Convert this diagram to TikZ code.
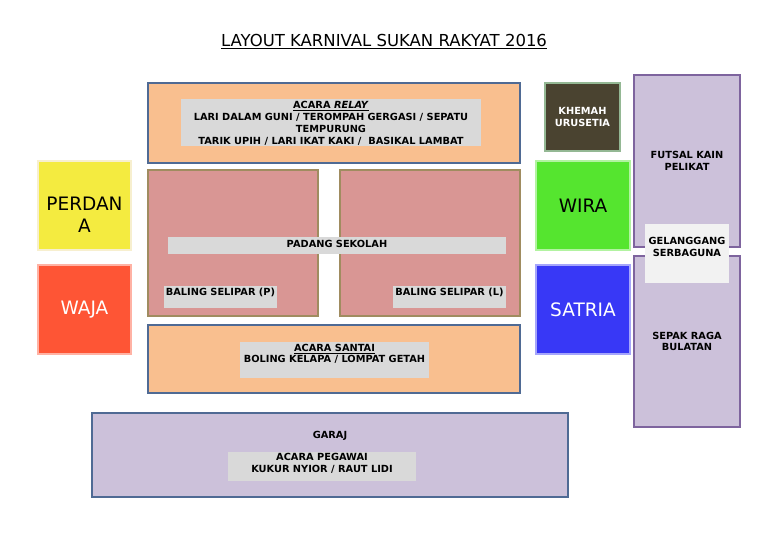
\documentclass[tikz,border=0pt]{standalone}
\usepackage{fontspec}
\setmainfont{DejaVu Sans}
\usetikzlibrary{positioning}

\definecolor{oren}{HTML}{F9BF8F}
\definecolor{biru}{HTML}{4F6A94}
\definecolor{padang}{HTML}{D99694}
\definecolor{padangline}{HTML}{A08C60}
\definecolor{kelabu}{HTML}{D9D9D9}
\definecolor{ungu}{HTML}{CCC1DA}
\definecolor{unguline}{HTML}{7E649E}
\definecolor{kuning}{HTML}{F4EB40}
\definecolor{merah}{HTML}{FE5535}
\definecolor{hijau}{HTML}{55E52F}
\definecolor{birutua}{HTML}{3838F6}
\definecolor{coklat}{HTML}{4A4330}

\begin{document}
\begin{tikzpicture}[x=1pt,y=-1pt,
  every node/.style={inner sep=0pt,outer sep=0pt},
  zone/.style={draw=biru,line width=1.3pt,rectangle},
  field/.style={draw=padangline,line width=1.3pt,fill=padang},
  greybox/.style={fill=kelabu},
  rumah/.style={line width=1.3pt,font=\fontsize{18.5}{22}\selectfont,align=center},
  txt/.style={font=\fontsize{9.8}{11.8}\selectfont\bfseries,align=center}]
\useasboundingbox (0,0) rectangle (768,543);

% tajuk
\node[font=\fontsize{16.5}{19}\selectfont] (tajuk) at (384,41.5) {\underline{LAYOUT KARNIVAL SUKAN RAKYAT 2016}};

% acara relay
\node[zone,fill=oren,minimum width=372pt,minimum height=80pt] (relay) at (334,123) {};
\node[greybox,minimum width=300pt,minimum height=47pt] (relaybox) at (331,122.5) {};
\node[txt] at ([yshift=-1pt]relaybox) {\underline{ACARA \textit{RELAY}}\\LARI DALAM GUNI / TEROMPAH GERGASI / SEPATU\\TEMPURUNG\\TARIK UPIH / LARI IKAT KAKI /~ BASIKAL LAMBAT};

% padang sekolah
\node[field,minimum width=170pt,minimum height=146pt] (padangP) at (233,243) {};
\node[field,minimum width=180pt,minimum height=146pt] (padangL) at (430,243) {};
\node[greybox,minimum width=338pt,minimum height=17pt] (padangbar) at (337,245.5) {};
\node[txt] at ([yshift=2pt]padangbar) {PADANG SEKOLAH};
\node[greybox,minimum width=113pt,minimum height=22pt] (balingP) at (220.5,297) {};
\node[txt,below=2.5pt of balingP.north] {BALING SELIPAR (P)};
\node[greybox,minimum width=113pt,minimum height=22pt] (balingL) at (449.5,297) {};
\node[txt,below=2.5pt of balingL.north] {BALING SELIPAR (L)};

% acara santai
\node[zone,fill=oren,minimum width=372pt,minimum height=68pt] (santai) at (334,359) {};
\node[greybox,minimum width=189pt,minimum height=36pt] (santaibox) at (334.5,360) {};
\node[txt,below=2pt of santaibox.north,font=\fontsize{9.8}{10.8}\selectfont\bfseries] {\underline{ACARA SANTAI}\\BOLING KELAPA / LOMPAT GETAH};

% garaj
\node[zone,fill=ungu,minimum width=476pt,minimum height=84pt] (garaj) at (330,455) {};
\node[txt] at (330,435.5) {GARAJ};
\node[greybox,minimum width=188pt,minimum height=29pt] (pegawai) at (322,466.5) {};
\node[txt] at ([yshift=3pt]pegawai) {ACARA PEGAWAI\\KUKUR NYIOR / RAUT LIDI};

% rumah sukan
\node[rumah,draw=kuning!60!brown!25,fill=kuning,minimum width=93pt,minimum height=89pt] (perdana) at (84.5,205.5) {};
\node[rumah] at ([yshift=-9pt]perdana) {PERDAN\\A};
\node[rumah,draw=merah!45!white,fill=merah,text=white,minimum width=93pt,minimum height=89pt] (waja) at (84.5,309.5) {WAJA};
\node[rumah,draw=hijau!45!white,fill=hijau,minimum width=94pt,minimum height=89pt] (wira) at (583,205.5) {WIRA};
\node[rumah,draw=birutua!45!white,fill=birutua,text=white,minimum width=94pt,minimum height=89pt] (satria) at (583,309.5) {SATRIA};

% khemah urusetia
\node[txt,draw=green!20!gray!70,line width=1.3pt,fill=coklat,text=white,minimum width=75pt,minimum height=68pt] (khemah) at (582.5,117) {KHEMAH\\URUSETIA};

% gelanggang serbaguna
\node[txt,draw=unguline,line width=1.3pt,fill=ungu,minimum width=106pt,minimum height=172pt] (futsal) at (687,161) {FUTSAL KAIN\\PELIKAT};
\node[txt,draw=unguline,line width=1.3pt,fill=ungu,minimum width=106pt,minimum height=171pt] (sepak) at (687,341.5) {SEPAK RAGA\\BULATAN};
\node[fill=gray!10,minimum width=84pt,minimum height=59pt] (gelanggang) at (687,253.5) {};
\node[txt,below=13pt of gelanggang.north] {GELANGGANG\\SERBAGUNA};
\end{tikzpicture}
\end{document}
